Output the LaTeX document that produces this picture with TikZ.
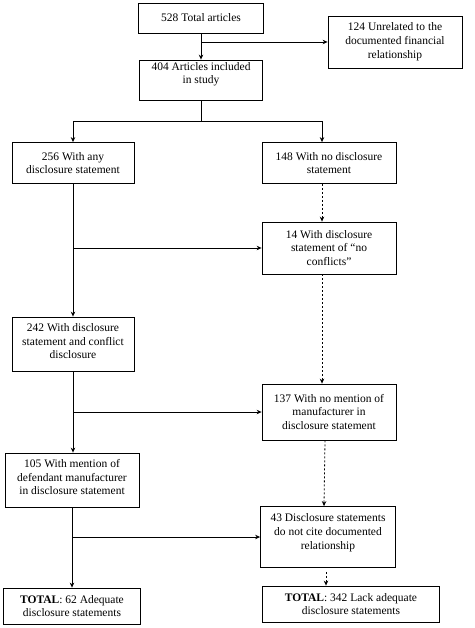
\documentclass[tikz,border=0pt]{standalone}
\usepackage{fontspec}
\setmainfont{Liberation Serif}
\usetikzlibrary{arrows.meta}
\tikzset{>={Stealth[length=5pt, width=4.5pt]}}

\begin{document}
\begin{tikzpicture}[x=1pt, y=-1pt, font=\fontsize{11.5}{13.8}\selectfont,
    box/.style={draw, align=center, inner sep=2pt, line width=0.8pt},
    flow/.style={->, line width=0.8pt},
    dflow/.style={->, line width=0.8pt, dash pattern=on 2pt off 2pt}]
    \useasboundingbox (0,0) rectangle (474,628);
    \node[box, minimum width=125, minimum height=30] (total) at (201,18) {528 Total articles};
    \node[box, minimum width=134, minimum height=52] (unrel) at (395,42) {124 Unrelated to the\\documented financial\\relationship};
    \node[box, minimum width=123, minimum height=40] (incl) at (201,80) {404 Articles included\\in study\\[0pt]};
    \node[box, minimum width=122, minimum height=41] (anyd) at (73,163) {256 With any\\disclosure statement};
    \node[box, minimum width=134, minimum height=41] (nodis) at (329,163) {148 With no disclosure\\statement};
    \node[box, minimum width=134, minimum height=52] (noconf) at (329,248) {14 With disclosure\\statement of ``no\\conflicts''};
    \node[box, minimum width=122, minimum height=54] (confd) at (73,344) {242 With disclosure\\statement and conflict\\disclosure\\[-8pt]};
    \node[box, minimum width=134, minimum height=56] (nomen) at (329,412) {137 With no mention of\\manufacturer in\\disclosure statement};
    \node[box, minimum width=134, minimum height=54] (defm) at (72,480) {105 With mention of\\defendant manufacturer\\in disclosure statement\\[-8pt]};
    \node[box, minimum width=135, minimum height=61] (nocite) at (328,537) {43 Disclosure statements\\do not cite documented\\relationship\\[-3pt]};
    \node[box, minimum width=137, minimum height=36] (adeq) at (72,606) {\textbf{TOTAL}: 62 Adequate\\disclosure statements};
    \node[box, minimum width=177, minimum height=36] (lack) at (351,604) {\textbf{TOTAL}: 342 Lack adequate\\disclosure statements};

    \draw[flow] (total) -- (incl);
    \draw[flow] (total.south |- unrel.west) -- (unrel.west);
    \draw[flow] (incl.south) -- ++(0,21) -| (anyd.north);
    \draw[flow] (incl.south) -- ++(0,21) -| ([xshift=-7pt]nodis.north);
    \draw[flow] (anyd) -- (confd);
    \draw[flow] (anyd.south |- noconf.west) -- (noconf.west);
    \draw[flow] (confd.south) -- (confd.south |- defm.north);
    \draw[flow] (confd.south |- nomen.west) -- (nomen.west);
    \draw[flow] (defm) -- (adeq);
    \draw[flow] (defm.south |- nocite.west) -- (nocite.west);
    \draw[dflow] ([xshift=-7pt]nodis.south) -- ([xshift=-7pt]noconf.north);
    \draw[dflow] ([xshift=-7pt]noconf.south) -- ([xshift=-7pt]nomen.north);
    \draw[dflow] ([xshift=-4pt]nomen.south) -- ([xshift=-4pt]nocite.north);
    \draw[dflow] ([xshift=-2pt]nocite.south) ++(0,4) -- ([xshift=-25pt]lack.north);
\end{tikzpicture}
\end{document}
